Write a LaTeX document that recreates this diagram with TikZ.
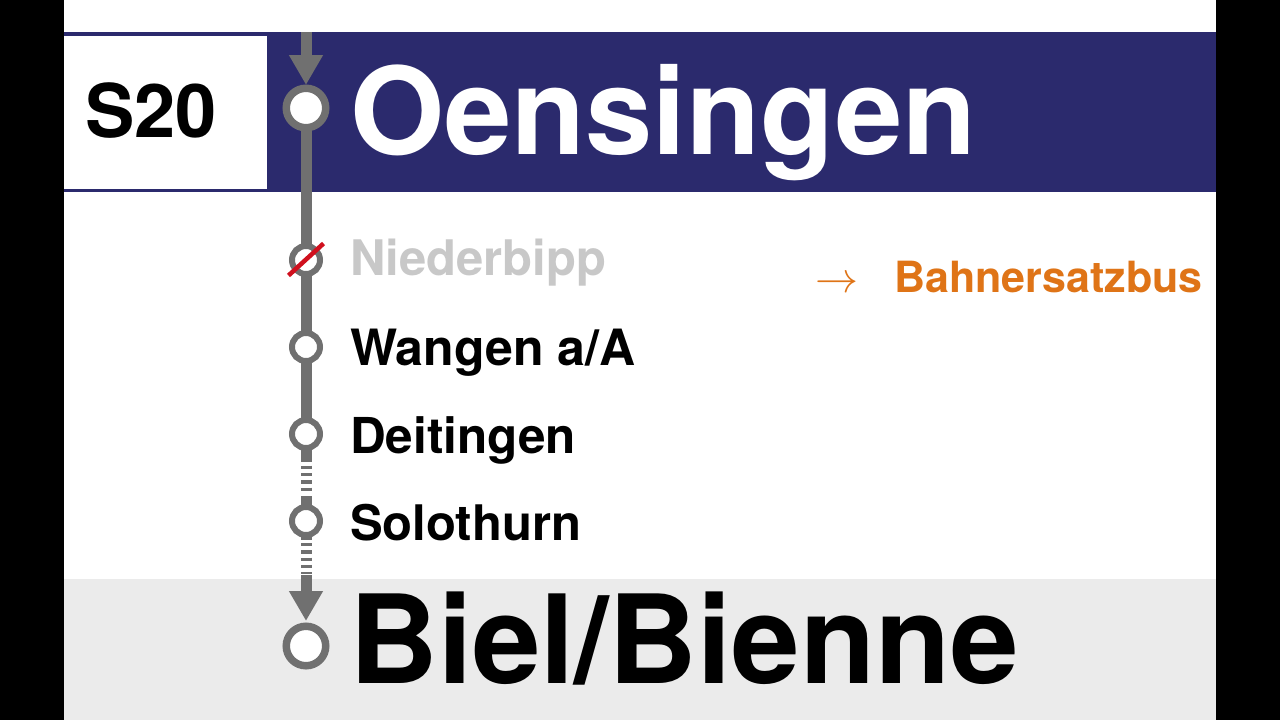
\documentclass[tikz,border=0pt]{standalone}
\usepackage{fontspec}
\setmainfont{TeX Gyre Heros}
\usetikzlibrary{calc,arrows.meta}
\definecolor{sbbblue}{HTML}{2B2A6D}
\definecolor{trackgrey}{HTML}{707070}
\definecolor{lighttext}{HTML}{C8C8C8}
\definecolor{bandgrey}{HTML}{EBEBEB}
\definecolor{busorange}{HTML}{DF7417}
\definecolor{cancelred}{HTML}{D0101E}
\pgfdeclarelayer{bg}
\pgfdeclarelayer{trk}
\pgfsetlayers{bg,trk,main}
\begin{document}
\begin{tikzpicture}[x=1pt,y=-1pt,
  track/.style={draw=trackgrey, line width=11pt, line cap=butt},
  trackdash/.style={track, dash pattern=on 3.3pt off 4pt},
  tip/.style={-{Triangle[width=32pt,length=30pt]}},
  stn/.style={circle, draw=trackgrey, line width=6pt, fill=white, minimum size=28pt, inner sep=0pt},
  term/.style={circle, draw=trackgrey, line width=7.5pt, fill=white, minimum size=39.5pt, inner sep=0pt},
  lbl/.style={anchor=base west, inner sep=0pt, font=\bfseries\fontsize{50}{50}\selectfont},
  big/.style={anchor=base west, inner sep=0pt, font=\bfseries\fontsize{121}{121}\selectfont}]
\useasboundingbox (0,0) rectangle (1280,720);
\begin{pgfonlayer}{bg}
  \fill[black] (0,0) rectangle (1280,720);
  \fill[white] (64,0) rectangle (1216,720);
  \fill[sbbblue] (64,32) rectangle (1216,192);
  \fill[bandgrey] (64,579) rectangle (1216,720);
\end{pgfonlayer}
\node[fill=white, minimum width=203pt, minimum height=153pt, inner sep=0pt] (linebox) at (165.5,112.5) {};
\node[anchor=base west, inner sep=0pt, font=\bfseries\fontsize{74}{74}\selectfont] (line) at (85,137) {S20};

% stations
\node[term] (oe) at (306,108) {};
\node[stn] (nb) at (306,260) {};
\node[stn] (wa) at (306,347) {};
\node[stn] (de) at (306,434) {};
\node[stn] (so) at (306,521) {};
\node[term] (bi) at (306,646) {};

% track
\begin{pgfonlayer}{trk}
  \coordinate (topend) at (306,32);
  \draw[track, tip] (topend) -- ($(oe.center)+(0,-23)$);
  \draw[track] (oe.center) -- (nb.center) -- (wa.center) -- (de.center);
  \draw[track] (de.center) -- ($(de.center)+(0,28)$);
  \draw[trackdash] ($(de.center)+(0,31.7)$) -- ($(de.center)+(0,58)$);
  \draw[track] ($(so.center)+(0,-25)$) -- (so.center);
  \draw[track] (so.center) -- ($(so.center)+(0,19)$);
  \draw[trackdash] ($(so.center)+(0,22)$) -- ($(so.center)+(0,53)$);
  \draw[track, tip] ($(so.center)+(0,54)$) -- ($(bi.center)+(0,-25)$);
\end{pgfonlayer}
\draw[cancelred, line width=4.5pt] ($(nb.center)+(-17.5,15.5)$) -- ($(nb.center)+(17.5,-16.5)$);

% labels
\node[big, text=white] (toe) at (350,154) {Oensingen};
\node[lbl, text=lighttext, font=\bfseries\fontsize{49}{49}\selectfont] (tnb) at (350,275) {Niederbipp};
\node[lbl] (twa) at (350,365) {Wangen a/A};
\node[lbl, font=\bfseries\fontsize{49.5}{49.5}\selectfont] (tde) at (350,453) {Deitingen};
\node[lbl, font=\bfseries\fontsize{49}{49}\selectfont] (tso) at (350,540) {Solothurn};
\node[big, font=\bfseries\fontsize{123}{123}\selectfont] (tbi) at (349,683) {Biel/Bienne};
\node[anchor=base west, inner sep=0pt, text=busorange] (arr) at (815,292) {\scalebox{4.3}{$\rightarrow$}};
\node[anchor=base west, inner sep=0pt, text=busorange, font=\bfseries\fontsize{43}{43}\selectfont] (bus) at (894,292) {Bahnersatzbus};
\end{tikzpicture}
\end{document}
